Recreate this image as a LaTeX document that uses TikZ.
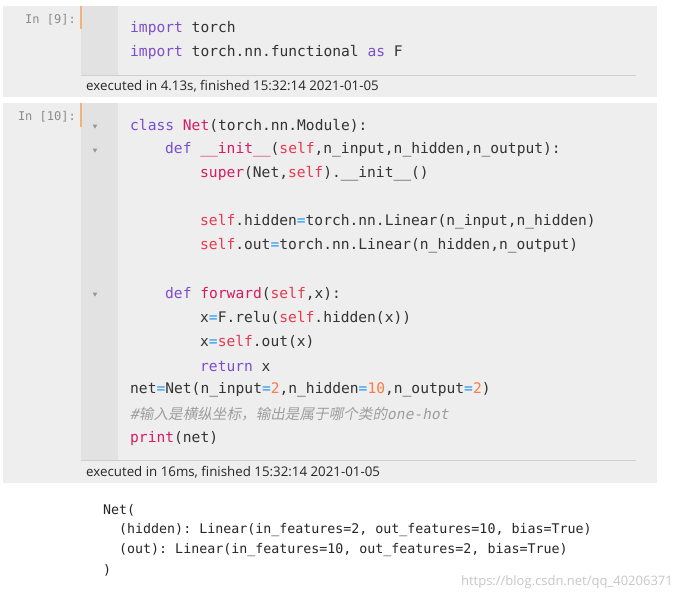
\documentclass[tikz,border=0pt]{standalone}
\usetikzlibrary{shapes.geometric}
\usepackage{fontspec}
\setmainfont{Open Sans}
\setmonofont{DejaVu Sans Mono}
\newfontfamily\cjk[FakeSlant=0.2]{Noto Sans CJK SC}
\newfontfamily\monoit[FakeSlant=0.2]{DejaVu Sans Mono}
\definecolor{cellbg}{HTML}{EEEEEE}
\definecolor{gutter}{HTML}{E2E2E2}
\definecolor{rule}{HTML}{CFCFCF}
\definecolor{promptc}{HTML}{8A8A8A}
\definecolor{orangebar}{HTML}{F0B27A}
\definecolor{kwc}{HTML}{7C4DCC}
\definecolor{nmc}{HTML}{D81B60}
\definecolor{selfc}{HTML}{E53950}
\definecolor{eqc}{HTML}{2196F3}
\definecolor{numc}{HTML}{FF7A45}
\definecolor{comc}{HTML}{9E9E9E}
\definecolor{txt}{HTML}{333333}
\newcommand\Ck[1]{\textcolor{kwc}{#1}}
\newcommand\Cn[1]{\textcolor{nmc}{#1}}
\newcommand\Cs[1]{\textcolor{selfc}{#1}}
\newcommand\Ce[1]{\textcolor{eqc}{#1}}
\newcommand\Co[1]{\textcolor{numc}{#1}}
\begin{document}
\begin{tikzpicture}[x=1pt,y=-1pt,
  code/.style={anchor=west,inner sep=0,text=txt,font=\ttfamily\fontsize{14.6}{16}\selectfont},
  prompt/.style={anchor=east,inner sep=0,text=promptc,font=\ttfamily\fontsize{12}{14}\selectfont},
  exec/.style={anchor=west,inner sep=0,text=black!85,font=\fontsize{13.3}{15}\selectfont},
  outp/.style={anchor=west,inner sep=0,text=black!85,font=\ttfamily\fontsize{13.3}{15}\selectfont},
  fold/.style={fill=black!40,draw=none,isosceles triangle,shape border rotate=-90,minimum size=4pt,inner sep=0,isosceles triangle apex angle=60}]
\useasboundingbox (0,0) rectangle (681,602);
\fill[white] (0,0) rectangle (681,602);
% cell 1
\fill[cellbg] (3,6) rectangle (657,97);
\fill[gutter] (81,6) rectangle (118,75);
\draw[rule] (81,75.5) -- (636,75.5);
\fill[orangebar] (80,6) rectangle (82,29);
\node[prompt] (p1) at (76,20) {In [9]:};
\node[code] (c1a) at (130,28) {\Ck{import} torch};
\node[code] (c1b) at (130,52) {\Ck{import} torch.nn.functional \Ck{as} F};
\node[exec] (e1) at (86,86) {executed in 4.13s, finished 15:32:14 2021-01-05};
% cell 2
\fill[cellbg] (3,103) rectangle (657,483);
\fill[gutter] (81,103) rectangle (118,460);
\draw[rule] (81,460.5) -- (636,460.5);
\fill[orangebar] (80,103) rectangle (82,127);
\node[prompt] (p2) at (76,117) {In [10]:};
\node[fold] (f1) at (95,126) {};
\node[fold] (f2) at (95,150) {};
\node[fold] (f3) at (95,294) {};
\node[code] (l1) at (130,126) {\Ck{class} \Cn{Net}(torch.nn.Module):};
\node[code] (l2) at (165,150) {\Ck{def} \Cn{\_\_init\_\_}(\Cs{self},n\_input,n\_hidden,n\_output):};
\node[code] (l3) at (200,174) {\Cn{super}(Net,\Cs{self}).\_\_init\_\_()};
\node[code] (l4) at (200,222) {\Cs{self}.hidden\Ce{=}torch.nn.Linear(n\_input,n\_hidden)};
\node[code] (l5) at (200,246) {\Cs{self}.out\Ce{=}torch.nn.Linear(n\_hidden,n\_output)};
\node[code] (l6) at (165,294) {\Ck{def} \Cn{forward}(\Cs{self},x):};
\node[code] (l7) at (200,318) {x\Ce{=}F.relu(\Cs{self}.hidden(x))};
\node[code] (l8) at (200,342) {x\Ce{=}\Cs{self}.out(x)};
\node[code] (l9) at (200,366) {\Ck{return} x};
\node[code] (l10) at (130,390) {net\Ce{=}Net(n\_input\Ce{=}\Co{2},n\_hidden\Ce{=}\Co{10},n\_output\Ce{=}\Co{2})};
\node[code,text=comc] (l11) at (130,414) {{\monoit\#}{\cjk\fontsize{14.6}{16}\selectfont 输入是横纵坐标，输出是属于哪个类的}{\monoit one-hot}};
\node[code] (l12) at (130,438) {\Cn{print}(net)};
\node[exec] (e2) at (86,472) {executed in 16ms, finished 15:32:14 2021-01-05};
% output
\node[outp] (o1) at (103,510) {Net(};
\node[outp] (o2) at (119,530) {(hidden): Linear(in\_features=2, out\_features=10, bias=True)};
\node[outp] (o3) at (119,550) {(out): Linear(in\_features=10, out\_features=2, bias=True)};
\node[outp] (o4) at (103,570) {)};
\node[anchor=east,inner sep=0,text=black!22,font=\fontsize{13}{15}\selectfont] (wm) at (673,582) {https://blog.csdn.net/qq\_40206371};
\end{tikzpicture}
\end{document}
